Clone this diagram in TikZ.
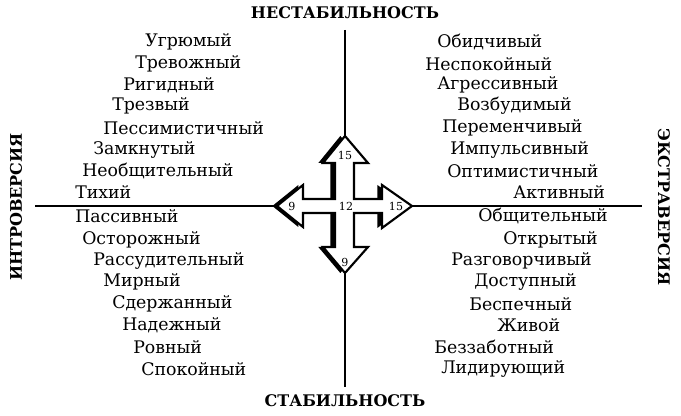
\documentclass[tikz,border=0pt]{standalone}
\usepackage{fontspec}
\setmainfont{DejaVu Serif}
\begin{document}
\begin{tikzpicture}[x=0.75pt,y=-0.75pt,
  w/.style={font=\fontsize{13}{14}\selectfont,inner sep=0pt,anchor=west},
  hd/.style={font=\bfseries\fontsize{12}{13}\selectfont,inner sep=0pt},
  num/.style={font=\fontsize{8.3}{9}\selectfont,inner sep=0pt}]
\useasboundingbox (0,0) rectangle (681,416);
\coordinate (t) at (345,30); \coordinate (b) at (345,387);
\coordinate (l) at (35,206); \coordinate (r) at (642,206);
\draw[line width=0.8pt] (t) -- (b);
\draw[line width=0.8pt] (l) -- (r);
\def\cross{(335,163) -- (323,163) -- (345,136) -- (368,163) -- (354,163) -- (354,199) -- (382,199) -- (382,185) -- (412,206) -- (382,228) -- (382,213) -- (354,213) -- (354,247) -- (368,247) -- (345,273) -- (323,247) -- (335,247) -- (335,213) -- (303,213) -- (303,227) -- (277,206) -- (303,185) -- (303,199) -- (335,199) -- cycle}
\fill[black,xshift=-3.5pt] \cross;
\filldraw[fill=white,draw=black,line width=1.6pt,line join=miter] \cross;
\node[num] (n1) at (345,155) {15};
\node[num] (n2) at (345,262) {9};
\node[num] (n3) at (292,206) {9};
\node[num] (n4) at (396,206) {15};
\node[num] (n5) at (346,206) {12};
\node[hd] (h1) at (345,13) {НЕСТАБИЛЬНОСТЬ};
\node[hd] (h2) at (345,401) {СТАБИЛЬНОСТЬ};
\node[hd,rotate=90] (h3) at (16,207) {ИНТРОВЕРСИЯ};
\node[hd,rotate=-90] (h4) at (664,207) {ЭКСТРАВЕРСИЯ};
\node[w] (a1) at (145,42) {Угрюмый};
\node[w] (a2) at (135,64) {Тревожный};
\node[w] (a3) at (123,85) {Ригидный};
\node[w] (a4) at (112,106) {Трезвый};
\node[w] (a5) at (103,128) {Пессимистичный};
\node[w] (a6) at (93,150) {Замкнутый};
\node[w] (a7) at (82,171) {Необщительный};
\node[w] (a8) at (75,192) {Тихий};
\node[w] (a9) at (75,216) {Пассивный};
\node[w] (a10) at (82,240) {Осторожный};
\node[w] (a11) at (93,261) {Рассудительный};
\node[w] (a12) at (103,282) {Мирный};
\node[w] (a13) at (112,304) {Сдержанный};
\node[w] (a14) at (122,325) {Надежный};
\node[w] (a15) at (133,347) {Ровный};
\node[w] (a16) at (141,369) {Спокойный};
\node[w] (b1) at (437,42) {Обидчивый};
\node[w] (b2) at (425,64) {Неспокойный};
\node[w] (b3) at (437,85) {Агрессивный};
\node[w] (b4) at (457,106) {Возбудимый};
\node[w] (b5) at (442,128) {Переменчивый};
\node[w] (b6) at (450,150) {Импульсивный};
\node[w] (b7) at (447,171) {Оптимистичный};
\node[w] (b8) at (513,192) {Активный};
\node[w] (b9) at (478,216) {Общительный};
\node[w] (b10) at (503,240) {Открытый};
\node[w] (b11) at (451,261) {Разговорчивый};
\node[w] (b12) at (474,282) {Доступный};
\node[w] (b13) at (469,304) {Беспечный};
\node[w] (b14) at (497,325) {Живой};
\node[w] (b15) at (434,347) {Беззаботный};
\node[w] (b16) at (441,369) {Лидирующий};
\end{tikzpicture}
\end{document}
